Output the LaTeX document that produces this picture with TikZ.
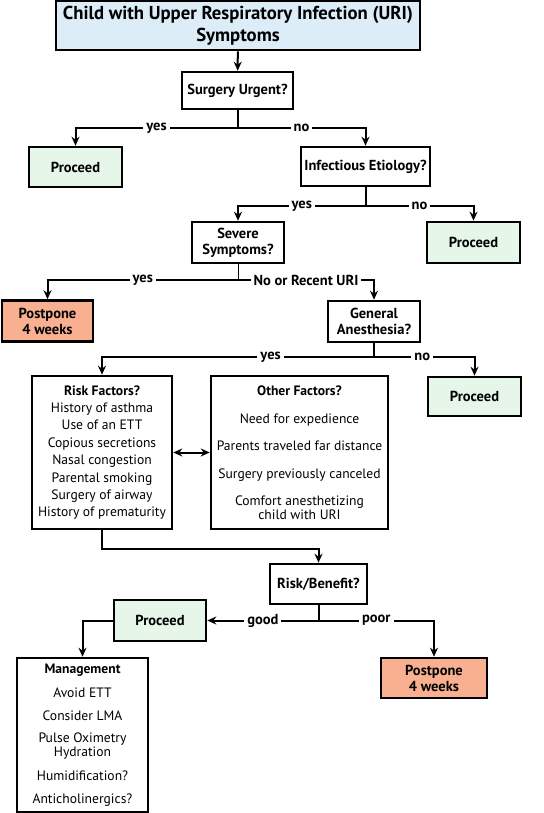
\documentclass[tikz,border=0pt]{standalone}
\usepackage{fontspec}
\setmainfont{PT Sans}
\usetikzlibrary{arrows.meta}
\definecolor{uriblue}{RGB}{220,237,248}
\definecolor{gogreen}{RGB}{230,246,232}
\definecolor{waitred}{RGB}{248,176,145}

\begin{document}
\begin{tikzpicture}[>={Stealth[length=9pt,width=8pt]}, x=1pt, y=-1pt,
    box/.style={draw, line width=2.6pt, align=center, inner sep=2pt,
        font=\bfseries\fontsize{14.5}{16}\selectfont},
    gobox/.style={box, fill=gogreen, minimum width=93, minimum height=40},
    waitbox/.style={box, fill=waitred, minimum height=41},
    listbox/.style={box, font=\fontsize{13.6}{17.4}\selectfont},
    lbl/.style={fill=white, inner sep=3pt, font=\bfseries\fontsize{14.5}{16}\selectfont},
    arr/.style={->, line width=2pt}]
        \useasboundingbox (0,0) rectangle (543,813);

        % 1. Start and first question
        \node[box, fill=uriblue, minimum width=364, minimum height=49,
            font=\bfseries\fontsize{18.7}{22}\selectfont] (uri) at (238,25.5)
            {Child with Upper Respiratory Infection (URI)\\Symptoms};
        \node[box, minimum width=111, minimum height=37] (urgent) at (237.5,90.5) {Surgery Urgent?};
        \node[gobox] (go1) at (75.5,167) {Proceed};
        \node[box, minimum width=129, minimum height=39] (etio) at (365.5,166.5) {Infectious Etiology?};

        \draw[arr] (uri) -- (urgent);
        \coordinate (split1) at (237.5,128);
        \draw[line width=2pt] (urgent) -- (split1);
        \draw[arr] (split1) -| node[lbl, pos=0.25] {yes} (go1.north);
        \draw[arr] (split1) -| node[lbl, pos=0.25] {no} (etio.north);

        % 2. Infectious etiology
        \node[box, minimum width=92, minimum height=41] (severe) at (238,242.5) {Severe\\Symptoms?};
        \node[gobox, minimum height=41] (go2) at (473.5,242.5) {Proceed};

        \coordinate (split2) at (365.5,206);
        \draw[line width=2pt] (etio) -- (split2);
        \draw[arr] (split2) -| node[lbl, pos=0.25] {yes} (severe.north);
        \draw[arr] (split2) -| node[lbl, pos=0.25] {no} (go2.north);

        % 3. Severe symptoms
        \node[waitbox, minimum width=91] (wait1) at (47.5,321) {Postpone\\4 weeks};
        \node[box, minimum width=92, minimum height=41] (anest) at (374,321.5) {General\\Anesthesia?};

        \coordinate (split3) at (238,280);
        \draw[line width=1pt] (severe) -- (split3);
        \draw[arr] (split3) -| node[lbl, pos=0.25] {yes} (wait1.north);
        \draw[arr] (split3) -| node[lbl, pos=0.25] {No or Recent URI} (anest.north);

        % 4. General anesthesia
        \node[listbox, minimum width=140, minimum height=153] (risk) at (102,452.5)
            {\textbf{Risk Factors?}\\History of asthma\\Use of an ETT\\Copious secretions\\
             Nasal congestion\\Parental smoking\\Surgery of airway\\History of prematurity};
        \node[listbox, minimum width=177, minimum height=153,
            font=\fontsize{13.6}{13.5}\selectfont] (other) at (299.5,452.5)
            {\textbf{Other Factors?}\\[14pt]Need for expedience\\[14pt]Parents traveled far distance\\[14pt]
             Surgery previously canceled\\[14pt]Comfort anesthetizing\\child with URI};
        \node[gobox, minimum height=39] (go3) at (474.5,396.5) {Proceed};

        \coordinate (split4) at (374,357);
        \draw[line width=2pt] (anest) -- (split4);
        \draw[arr] (split4) -| node[lbl, pos=0.19] {yes} (risk.north);
        \draw[arr] (split4) -| node[lbl, pos=0.24] {no} (go3.north);
        \draw[<->, line width=2pt] (risk) -- (other);

        % 5. Risk/Benefit
        \node[box, minimum width=97, minimum height=40] (benefit) at (318.5,584) {Risk/Benefit?};
        \node[gobox, minimum width=92, minimum height=41] (go4) at (160,620.5) {Proceed};
        \node[waitbox, minimum width=106, minimum height=40] (wait2) at (434,678) {Postpone\\4 weeks};
        \node[listbox, minimum width=131, minimum height=154,
            font=\fontsize{13.6}{11.5}\selectfont] (manage) at (82.5,735)
            {\textbf{Management}\\[11pt]Avoid ETT\\[11pt]Consider LMA\\[11pt]Pulse Oximetry\\Hydration\\[11pt]
             Humidification?\\[11pt]Anticholinergics?};

        \draw[arr] (risk.south) -- ++(0,19) -| (benefit.north);
        \coordinate (split5) at (318.5,620.5);
        \draw[line width=2pt] (benefit) -- (split5);
        \draw[arr] (split5) -- node[lbl] {good} (go4.east);
        \draw[arr] (split5) -| node[lbl, pos=0.25] {poor} (wait2.north);
        \draw[arr] (go4.west) -| (manage.north);
\end{tikzpicture}
\end{document}
